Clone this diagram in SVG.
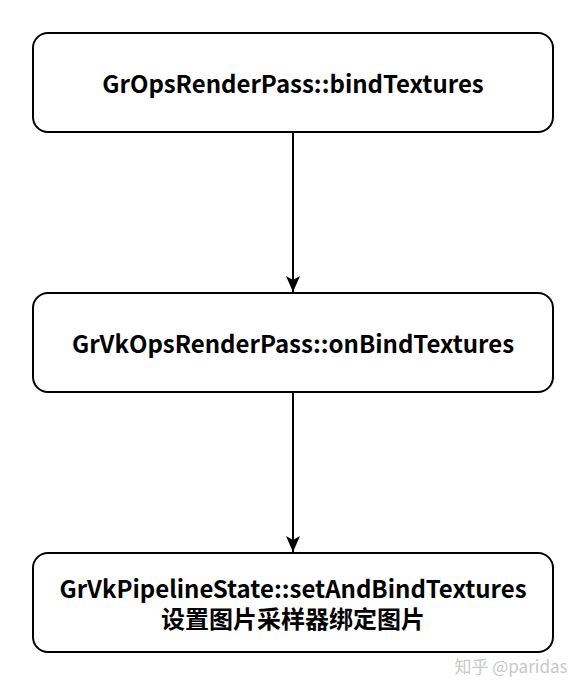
<svg xmlns="http://www.w3.org/2000/svg" width="586" height="694" viewBox="0 0 586 694">
<style>
.box{fill:#fff;stroke:#000;stroke-width:2}
.t{font-family:"Noto Sans CJK SC","Noto Sans",sans-serif;font-weight:bold;font-size:24px;fill:#000;text-anchor:middle}
.c{fill:none;stroke:#000;stroke-width:2}
</style>
<defs>
<marker id="ah" viewBox="0 0 16 14" refX="16" refY="7" markerWidth="16" markerHeight="14" orient="auto" markerUnits="userSpaceOnUse">
<path d="M0,0 L16,7 L0,14 L4,7 Z" fill="#000"/>
</marker>
</defs>
<rect width="586" height="694" fill="#fff"/>
<g id="connectors">
<line class="c" x1="293" y1="132" x2="293" y2="292" marker-end="url(#ah)"/>
<line class="c" x1="293" y1="392" x2="293" y2="552" marker-end="url(#ah)"/>
</g>
<g id="n1">
<rect class="box" x="33" y="33" width="520" height="99" rx="15"/>
<text class="t" x="293" y="93">GrOpsRenderPass::bindTextures</text>
</g>
<g id="n2">
<rect class="box" x="33" y="293" width="520" height="99" rx="15"/>
<text class="t" x="293" y="353">GrVkOpsRenderPass::onBindTextures</text>
</g>
<g id="n3">
<rect class="box" x="33" y="553" width="520" height="99" rx="15"/>
<text class="t" x="293" y="598">GrVkPipelineState::setAndBindTextures</text>
<text class="t" x="293" y="628">设置图片采样器绑定图片</text>
</g>
<text x="511" y="673" style="font-family:'Noto Sans CJK SC',sans-serif;font-size:17px;fill:#c8c8c8;text-anchor:middle">知乎 @paridas</text>
</svg>
